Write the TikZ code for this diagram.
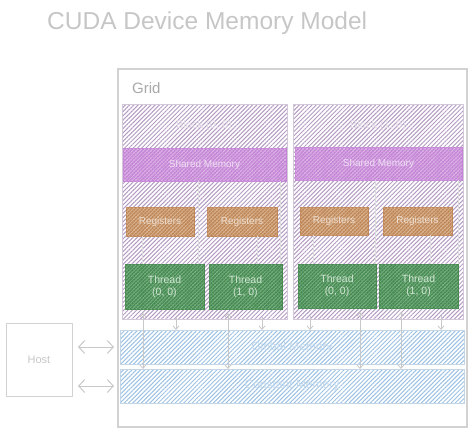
\documentclass[tikz,border=0pt]{standalone}
\usepackage{fontspec}
\setmainfont{Liberation Sans}
\usetikzlibrary{patterns.meta,arrows.meta,calc}
\definecolor{titlec}{HTML}{C6C6C6}
\definecolor{boxc}{HTML}{D2D2D2}
\definecolor{blkline}{HTML}{B39BC2}
\definecolor{blkdraw}{HTML}{D3C8D9}
\definecolor{blktext}{HTML}{E4DEE8}
\definecolor{shfill}{HTML}{C485D6}
\definecolor{shline}{HTML}{E2BEEA}
\definecolor{shtext}{HTML}{F0E0F4}
\definecolor{rgfill}{HTML}{BF8757}
\definecolor{rgline}{HTML}{E2C2A4}
\definecolor{rgtext}{HTML}{EEDFD2}
\definecolor{thfill}{HTML}{468A52}
\definecolor{thline}{HTML}{86BA8E}
\definecolor{thtext}{HTML}{D2E6D4}
\definecolor{gmline}{HTML}{9DC1E3}
\definecolor{gmdraw}{HTML}{C3D6E8}
\definecolor{gmtext}{HTML}{C4DAEE}
\definecolor{arrc}{HTML}{C8C8C8}
\definecolor{farrc}{HTML}{DCDCDC}
\tikzset{
  corner/.style={anchor=north west, inner sep=0pt, outer sep=0pt},
  gridbox/.style={corner, draw=boxc, line width=1.1pt},
  blockbox/.style={corner, draw=blkdraw, line width=0.6pt,
    pattern={Lines[angle=45,distance=3pt,line width=1pt]}, pattern color=blkline},
  shbox/.style={corner, draw=shfill, line width=0.6pt, preaction={fill=shfill},
    pattern={Lines[angle=45,distance=2.6pt,line width=0.6pt]}, pattern color=shline,
    postaction={pattern={Lines[angle=-45,distance=2.6pt,line width=0.4pt]}, pattern color=shline!60!shfill}},
  rgbox/.style={corner, draw=rgfill, line width=0.6pt, preaction={fill=rgfill},
    pattern={Lines[angle=45,distance=2.6pt,line width=0.6pt]}, pattern color=rgline,
    postaction={pattern={Lines[angle=-45,distance=2.6pt,line width=0.4pt]}, pattern color=rgline!60!rgfill}},
  thbox/.style={corner, draw=thfill, line width=0.6pt, preaction={fill=thfill},
    pattern={Lines[angle=45,distance=2.6pt,line width=0.6pt]}, pattern color=thline,
    postaction={pattern={Lines[angle=-45,distance=2.6pt,line width=0.4pt]}, pattern color=thline!60!thfill}},
  gmbox/.style={corner, draw=gmdraw, line width=0.6pt,
    pattern={Lines[angle=45,distance=3pt,line width=1pt]}, pattern color=gmline},
  hostbox/.style={corner, draw=boxc, line width=1pt},
  lbl/.style={inner sep=0pt, font=\fontsize{10}{12}\selectfont},
  arr/.style={draw=arrc, line width=0.8pt, {Straight Barb[length=3.5pt,width=6pt]}-{Straight Barb[length=3.5pt,width=6pt]}},
  sarr/.style={draw=arrc, line width=0.8pt, -{Straight Barb[length=3.5pt,width=6pt]}},
  farr/.style={draw=farrc, line width=0.6pt},
  harr/.style={draw=arrc, line width=1pt, {Straight Barb[length=6pt,width=13pt]}-{Straight Barb[length=6pt,width=13pt]}, shorten <=6pt, shorten >=6pt},
}
\begin{document}
\begin{tikzpicture}[x=1pt,y=1pt]
\useasboundingbox (0,0) rectangle (474,-434);
% title
\node[anchor=west, inner sep=0pt, text=titlec, font=\fontsize{24.5}{28}\selectfont] (title) at (47,-23) {CUDA Device Memory Model};
% grid
\node[gridbox, minimum width=349pt, minimum height=358pt] (grid) at (118,-69) {};
\node[anchor=west, inner sep=0pt, text=titlec!85!black, font=\fontsize{15}{17}\selectfont] (gridlbl) at (132,-88) {Grid};
% blocks
\node[blockbox, minimum width=165pt, minimum height=215pt] (b0) at (122,-104) {};
\node[blockbox, minimum width=170pt, minimum height=215pt] (b1) at (293,-104) {};
\node[lbl, text=blktext, font=\fontsize{11}{13}\selectfont] (b0lbl) at (204,-126) {Block (0, 0)};
\node[lbl, text=blktext, font=\fontsize{11}{13}\selectfont] (b1lbl) at (378,-126) {Block (1, 0)};
% shared memory
\node[shbox, minimum width=163pt, minimum height=33pt] (sh0) at (123,-148) {};
\node[shbox, minimum width=167pt, minimum height=33pt] (sh1) at (295,-147) {};
\node[lbl, text=shtext] at (sh0.center) (sh0t) {Shared Memory};
\node[lbl, text=shtext] at (sh1.center) (sh1t) {Shared Memory};
% registers
\node[rgbox, minimum width=68pt, minimum height=29pt] (r00) at (126,-207) {};
\node[rgbox, minimum width=70pt, minimum height=29pt] (r10) at (207,-207) {};
\node[rgbox, minimum width=68pt, minimum height=28pt] (r01) at (300,-207) {};
\node[rgbox, minimum width=69pt, minimum height=28pt] (r11) at (383,-207) {};
\node[lbl, text=rgtext] at (r00.center) (r00t) {Registers};
\node[lbl, text=rgtext] at (r10.center) (r10t) {Registers};
\node[lbl, text=rgtext] at (r01.center) (r01t) {Registers};
\node[lbl, text=rgtext] at (r11.center) (r11t) {Registers};
% threads
\node[thbox, minimum width=79pt, minimum height=45pt] (t00) at (125,-264) {};
\node[thbox, minimum width=73pt, minimum height=45pt] (t10) at (209,-264) {};
\node[thbox, minimum width=78pt, minimum height=44pt] (t01) at (298,-264) {};
\node[thbox, minimum width=79pt, minimum height=44pt] (t11) at (379,-264) {};
\node[lbl, text=thtext, align=center, font=\fontsize{10.5}{12}\selectfont] at (t00.center) (t00t) {Thread\\(0, 0)};
\node[lbl, text=thtext, align=center, font=\fontsize{10.5}{12}\selectfont] at (t10.center) (t10t) {Thread\\(1, 0)};
\node[lbl, text=thtext, align=center, font=\fontsize{10.5}{12}\selectfont] at (t01.center) (t01t) {Thread\\(0, 0)};
\node[lbl, text=thtext, align=center, font=\fontsize{10.5}{12}\selectfont] at (t11.center) (t11t) {Thread\\(1, 0)};
% global / constant memory
\node[gmbox, minimum width=344pt, minimum height=34pt] (gm) at (120,-330) {};
\node[gmbox, minimum width=344pt, minimum height=34pt] (cm) at (120,-369) {};
\node[lbl, text=gmtext, font=\fontsize{12}{14}\selectfont] at (gm.center) (gmt) {Global Memory};
\node[lbl, text=gmtext, font=\fontsize{12}{14}\selectfont] at (cm.center) (cmt) {Constant Memory};
% host
\node[hostbox, minimum width=66pt, minimum height=73pt] (host) at (6,-323) {};
\node[lbl, text=titlec, font=\fontsize{11}{13}\selectfont] at (host.center) (hostt) {Host};
\draw[harr] (host.east |- gm.west) -- (gm.west);
\draw[harr] (host.east |- cm.west) -- (cm.west);
% faint arrows: registers/shared to threads
\coordinate (f1) at ([xshift=16pt]r00.south west);
\coordinate (f2) at ([xshift=75pt]sh0.south west);
\coordinate (f3) at ([xshift=50pt]r10.south west);
\coordinate (f4) at ([xshift=157pt]sh0.south west);
\coordinate (f5) at ([xshift=13pt]r01.south west);
\coordinate (f6) at ([xshift=80pt]sh1.south west);
\coordinate (f7) at ([xshift=47pt]r11.south west);
\coordinate (f8) at ([xshift=163pt]sh1.south west);
\draw[farr] (f1) -- (f1 |- t00.north);
\draw[farr] (f2) -- (f2 |- t00.north);
\draw[farr] (f3) -- (f3 |- t10.north);
\draw[farr] (f4) -- (f4 |- t10.north);
\draw[farr] (f5) -- (f5 |- t01.north);
\draw[farr] (f6) -- (f6 |- t01.north);
\draw[farr] (f7) -- (f7 |- t11.north);
\draw[farr] (f8) -- (f8 |- t11.north);
% thread to global / constant
\coordinate (a1) at ([xshift=18pt]t00.south west);
\coordinate (a2) at ([xshift=51pt]t00.south west);
\coordinate (a3) at ([xshift=19pt]t10.south west);
\coordinate (a4) at ([xshift=53pt]t10.south west);
\coordinate (a5) at ([xshift=12pt]t01.south west);
\coordinate (a6) at ([xshift=62pt]t01.south west);
\coordinate (a7) at ([xshift=22pt]t11.south west);
\coordinate (a8) at ([xshift=62pt]t11.south west);
\draw[arr] ([yshift=-4pt]a1) -- (a1 |- cm.north);
\draw[sarr] ([yshift=-8pt]a2) -- (a2 |- gm.north);
\draw[arr] ([yshift=-4pt]a3) -- (a3 |- cm.north);
\draw[sarr] ([yshift=-8pt]a4) -- (a4 |- gm.north);
\draw[sarr] ([yshift=-8pt]a5) -- (a5 |- gm.north);
\draw[arr] ([yshift=-4pt]a6) -- (a6 |- cm.north);
\draw[arr] ([yshift=-4pt]a7) -- (a7 |- cm.north);
\draw[sarr] ([yshift=-8pt]a8) -- (a8 |- gm.north);
\end{tikzpicture}
\end{document}
